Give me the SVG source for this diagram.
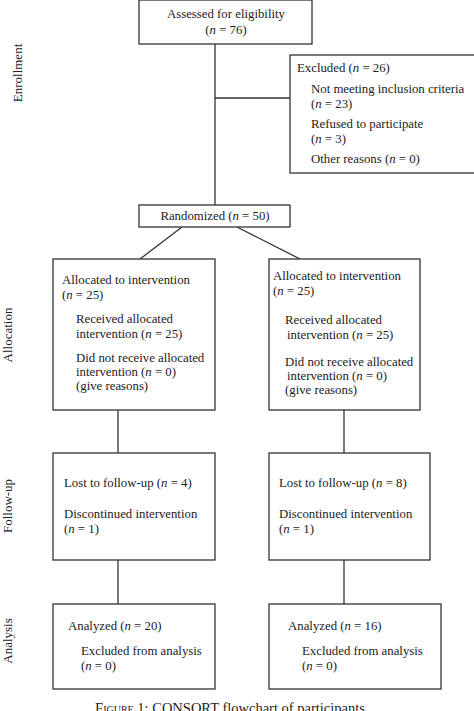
<svg xmlns="http://www.w3.org/2000/svg" width="474" height="711" viewBox="0 0 474 711">
<style>
text{font-family:"Liberation Serif","Times New Roman",serif;font-size:12.8px;fill:#222}
.box{fill:#fff;stroke:#333;stroke-width:1.3}
.ln{stroke:#333;stroke-width:1.3;fill:none}
.side{font-size:13px}
.c{text-anchor:middle}
</style>
<rect width="474" height="711" fill="#fff"/>
<g id="labels">
<text class="side c" transform="translate(22,73) rotate(-90)">Enrollment</text>
<text class="side c" transform="translate(12,335) rotate(-90)">Allocation</text>
<text class="side c" transform="translate(12,506) rotate(-90)">Follow-up</text>
<text class="side c" transform="translate(12,641) rotate(-90)">Analysis</text>
</g>
<g id="connectors">
<line class="ln" x1="215" y1="44" x2="215" y2="205"/>
<line class="ln" x1="215" y1="98" x2="290" y2="98"/>
<line class="ln" x1="182" y1="227" x2="140" y2="259"/>
<line class="ln" x1="237" y1="227" x2="300" y2="259"/>
<line class="ln" x1="118" y1="410" x2="118" y2="453"/>
<line class="ln" x1="344" y1="410" x2="344" y2="453"/>
<line class="ln" x1="118" y1="560" x2="118" y2="604"/>
<line class="ln" x1="344" y1="560" x2="344" y2="604"/>
</g>
<g id="assessed">
<rect class="box" x="139" y="0" width="173" height="44"/>
<text class="c" x="226" y="18">Assessed for eligibility</text>
<text class="c" x="226" y="34">(<tspan font-style="italic">n</tspan> = 76)</text>
</g>
<g id="excluded">
<rect class="box" x="290" y="55" width="190" height="118"/>
<text x="297" y="72">Excluded (<tspan font-style="italic">n</tspan> = 26)</text>
<text x="311" y="93">Not meeting inclusion criteria</text>
<text x="311" y="108">(<tspan font-style="italic">n</tspan> = 23)</text>
<text x="311" y="128">Refused to participate</text>
<text x="311" y="143">(<tspan font-style="italic">n</tspan> = 3)</text>
<text x="311" y="163">Other reasons (<tspan font-style="italic">n</tspan> = 0)</text>
</g>
<g id="randomized">
<rect class="box" x="139" y="205" width="151" height="22"/>
<text class="c" x="215" y="220">Randomized (<tspan font-style="italic">n</tspan> = 50)</text>
</g>
<g id="alloc-left">
<rect class="box" x="53" y="259" width="162" height="151"/>
<text x="62" y="284">Allocated to intervention</text>
<text x="62" y="299">(<tspan font-style="italic">n</tspan> = 25)</text>
<text x="76" y="323">Received allocated</text>
<text x="76" y="338">intervention (<tspan font-style="italic">n</tspan> = 25)</text>
<text x="76" y="362">Did not receive allocated</text>
<text x="76" y="376">intervention (<tspan font-style="italic">n</tspan> = 0)</text>
<text x="76" y="390">(give reasons)</text>
</g>
<g id="alloc-right">
<rect class="box" x="269" y="259" width="151" height="151"/>
<text x="273" y="280">Allocated to intervention</text>
<text x="273" y="295">(<tspan font-style="italic">n</tspan> = 25)</text>
<text x="285" y="324">Received allocated</text>
<text x="287" y="339">intervention (<tspan font-style="italic">n</tspan> = 25)</text>
<text x="285" y="366">Did not receive allocated</text>
<text x="287" y="380">intervention (<tspan font-style="italic">n</tspan> = 0)</text>
<text x="285" y="394">(give reasons)</text>
</g>
<g id="follow-left">
<rect class="box" x="53" y="453" width="162" height="107"/>
<text x="64" y="487">Lost to follow-up (<tspan font-style="italic">n</tspan> = 4)</text>
<text x="64" y="518">Discontinued intervention</text>
<text x="64" y="533">(<tspan font-style="italic">n</tspan> = 1)</text>
</g>
<g id="follow-right">
<rect class="box" x="269" y="453" width="161" height="107"/>
<text x="279" y="487">Lost to follow-up (<tspan font-style="italic">n</tspan> = 8)</text>
<text x="279" y="518">Discontinued intervention</text>
<text x="279" y="533">(<tspan font-style="italic">n</tspan> = 1)</text>
</g>
<g id="analysis-left">
<rect class="box" x="53" y="604" width="162" height="85"/>
<text x="68" y="630">Analyzed (<tspan font-style="italic">n</tspan> = 20)</text>
<text x="81" y="655">Excluded from analysis</text>
<text x="81" y="670">(<tspan font-style="italic">n</tspan> = 0)</text>
</g>
<g id="analysis-right">
<rect class="box" x="269" y="604" width="172" height="85"/>
<text x="288" y="630">Analyzed (<tspan font-style="italic">n</tspan> = 16)</text>
<text x="302" y="655">Excluded from analysis</text>
<text x="302" y="670">(<tspan font-style="italic">n</tspan> = 0)</text>
</g>
<g id="caption">
<text class="c" x="230" y="713" style="font-size:14.5px"><tspan font-variant="small-caps">Figure</tspan> 1: CONSORT flowchart of participants</text>
</g>
</svg>
